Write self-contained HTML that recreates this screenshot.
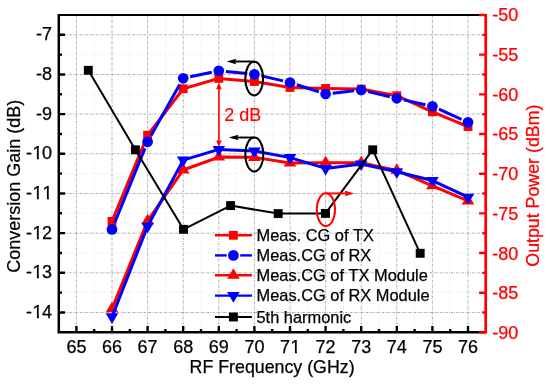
<!DOCTYPE html>
<html><head><meta charset="utf-8"><style>
html,body{margin:0;padding:0;background:#fff;}
svg{display:block;}
text{font-family:"Liberation Sans",Arial,sans-serif;font-kerning:none;fill:#000;stroke:#000;stroke-width:0.25px;}
text.r{fill:#f00;stroke:#f00;}
.t16{font-size:16.4px;}
.t17{font-size:17px;}
.t18{font-size:18px;}
.gM{stroke:#a8a8a8;stroke-width:1;stroke-dasharray:2.2 1.2 0.7 1.2;fill:none;}
.gm{stroke:#f6f6f6;stroke-width:1;fill:none;}
</style></head><body>
<svg width="550" height="384" viewBox="0 0 550 384">
<line x1="94.20" y1="15.0" x2="94.20" y2="332.2" class="gm"/>
<line x1="129.80" y1="15.0" x2="129.80" y2="332.2" class="gm"/>
<line x1="165.40" y1="15.0" x2="165.40" y2="332.2" class="gm"/>
<line x1="201.00" y1="15.0" x2="201.00" y2="332.2" class="gm"/>
<line x1="236.60" y1="15.0" x2="236.60" y2="332.2" class="gm"/>
<line x1="272.20" y1="15.0" x2="272.20" y2="332.2" class="gm"/>
<line x1="307.80" y1="15.0" x2="307.80" y2="332.2" class="gm"/>
<line x1="343.40" y1="15.0" x2="343.40" y2="332.2" class="gm"/>
<line x1="379.00" y1="15.0" x2="379.00" y2="332.2" class="gm"/>
<line x1="414.60" y1="15.0" x2="414.60" y2="332.2" class="gm"/>
<line x1="450.20" y1="15.0" x2="450.20" y2="332.2" class="gm"/>
<line x1="485.80" y1="15.0" x2="485.80" y2="332.2" class="gm"/>
<line x1="58.8" y1="54.63" x2="485.7" y2="54.63" class="gm"/>
<line x1="58.8" y1="94.31" x2="485.7" y2="94.31" class="gm"/>
<line x1="58.8" y1="133.98" x2="485.7" y2="133.98" class="gm"/>
<line x1="58.8" y1="173.64" x2="485.7" y2="173.64" class="gm"/>
<line x1="58.8" y1="213.31" x2="485.7" y2="213.31" class="gm"/>
<line x1="58.8" y1="252.99" x2="485.7" y2="252.99" class="gm"/>
<line x1="58.8" y1="292.66" x2="485.7" y2="292.66" class="gm"/>
<line x1="58.8" y1="332.33" x2="485.7" y2="332.33" class="gm"/>
<line x1="76.40" y1="15.0" x2="76.40" y2="332.2" class="gM"/>
<line x1="112.00" y1="15.0" x2="112.00" y2="332.2" class="gM"/>
<line x1="147.60" y1="15.0" x2="147.60" y2="332.2" class="gM"/>
<line x1="183.20" y1="15.0" x2="183.20" y2="332.2" class="gM"/>
<line x1="218.80" y1="15.0" x2="218.80" y2="332.2" class="gM"/>
<line x1="254.40" y1="15.0" x2="254.40" y2="332.2" class="gM"/>
<line x1="290.00" y1="15.0" x2="290.00" y2="332.2" class="gM"/>
<line x1="325.60" y1="15.0" x2="325.60" y2="332.2" class="gM"/>
<line x1="361.20" y1="15.0" x2="361.20" y2="332.2" class="gM"/>
<line x1="396.80" y1="15.0" x2="396.80" y2="332.2" class="gM"/>
<line x1="432.40" y1="15.0" x2="432.40" y2="332.2" class="gM"/>
<line x1="468.00" y1="15.0" x2="468.00" y2="332.2" class="gM"/>
<line x1="58.8" y1="34.80" x2="485.7" y2="34.80" class="gM"/>
<line x1="58.8" y1="74.47" x2="485.7" y2="74.47" class="gM"/>
<line x1="58.8" y1="114.14" x2="485.7" y2="114.14" class="gM"/>
<line x1="58.8" y1="153.81" x2="485.7" y2="153.81" class="gM"/>
<line x1="58.8" y1="193.48" x2="485.7" y2="193.48" class="gM"/>
<line x1="58.8" y1="233.15" x2="485.7" y2="233.15" class="gM"/>
<line x1="58.8" y1="272.82" x2="485.7" y2="272.82" class="gM"/>
<line x1="58.8" y1="312.49" x2="485.7" y2="312.49" class="gM"/>
<polyline points="112.00,221.40 147.60,135.20 183.20,88.80 218.80,78.40 254.40,81.50 290.00,87.50 325.60,88.40 361.20,89.00 396.80,95.70 432.40,111.80 468.00,126.60" fill="none" stroke="#ff0000" stroke-width="3.0" stroke-linejoin="round"/>
<rect x="107.60" y="217.00" width="8.8" height="8.8" fill="#ff0000"/>
<rect x="143.20" y="130.80" width="8.8" height="8.8" fill="#ff0000"/>
<rect x="178.80" y="84.40" width="8.8" height="8.8" fill="#ff0000"/>
<rect x="214.40" y="74.00" width="8.8" height="8.8" fill="#ff0000"/>
<rect x="250.00" y="77.10" width="8.8" height="8.8" fill="#ff0000"/>
<rect x="285.60" y="83.10" width="8.8" height="8.8" fill="#ff0000"/>
<rect x="321.20" y="84.00" width="8.8" height="8.8" fill="#ff0000"/>
<rect x="356.80" y="84.60" width="8.8" height="8.8" fill="#ff0000"/>
<rect x="392.40" y="91.30" width="8.8" height="8.8" fill="#ff0000"/>
<rect x="428.00" y="107.40" width="8.8" height="8.8" fill="#ff0000"/>
<rect x="463.60" y="122.20" width="8.8" height="8.8" fill="#ff0000"/>
<path d="M114.69,222.78L144.91,148.42M151.10,135.56L179.70,84.54M190.20,76.83L211.80,72.27M225.92,71.50L247.28,73.60M261.37,75.90L283.03,80.90M296.80,84.70L318.80,91.80M332.71,93.20L354.09,90.80M368.16,91.62L389.84,96.68M403.78,99.87L425.42,104.73M438.92,109.23L461.48,119.37" fill="none" stroke="#0000ff" stroke-width="3.0"/>
<circle cx="112.00" cy="229.40" r="5.35" fill="#0000ff"/>
<circle cx="147.60" cy="141.80" r="5.35" fill="#0000ff"/>
<circle cx="183.20" cy="78.30" r="5.35" fill="#0000ff"/>
<circle cx="218.80" cy="70.80" r="5.35" fill="#0000ff"/>
<circle cx="254.40" cy="74.30" r="5.35" fill="#0000ff"/>
<circle cx="290.00" cy="82.50" r="5.35" fill="#0000ff"/>
<circle cx="325.60" cy="94.00" r="5.35" fill="#0000ff"/>
<circle cx="361.20" cy="90.00" r="5.35" fill="#0000ff"/>
<circle cx="396.80" cy="98.30" r="5.35" fill="#0000ff"/>
<circle cx="432.40" cy="106.30" r="5.35" fill="#0000ff"/>
<circle cx="468.00" cy="122.30" r="5.35" fill="#0000ff"/>
<polyline points="112.00,308.77 147.60,220.77 183.20,169.97 218.80,157.07 254.40,157.37 290.00,163.07 325.60,162.77 361.20,162.77 396.80,170.37 432.40,185.77 468.00,200.97" fill="none" stroke="#ff0000" stroke-width="3.0" stroke-linejoin="round"/>
<polygon points="105.70,312.30 118.30,312.30 112.00,301.70" fill="#ff0000"/>
<polygon points="141.30,224.30 153.90,224.30 147.60,213.70" fill="#ff0000"/>
<polygon points="176.90,173.50 189.50,173.50 183.20,162.90" fill="#ff0000"/>
<polygon points="212.50,160.60 225.10,160.60 218.80,150.00" fill="#ff0000"/>
<polygon points="248.10,160.90 260.70,160.90 254.40,150.30" fill="#ff0000"/>
<polygon points="283.70,166.60 296.30,166.60 290.00,156.00" fill="#ff0000"/>
<polygon points="319.30,166.30 331.90,166.30 325.60,155.70" fill="#ff0000"/>
<polygon points="354.90,166.30 367.50,166.30 361.20,155.70" fill="#ff0000"/>
<polygon points="390.50,173.90 403.10,173.90 396.80,163.30" fill="#ff0000"/>
<polygon points="426.10,189.30 438.70,189.30 432.40,178.70" fill="#ff0000"/>
<polygon points="461.70,204.50 474.30,204.50 468.00,193.90" fill="#ff0000"/>
<polyline points="112.00,316.83 147.60,226.23 183.20,160.13 218.80,149.43 254.40,150.93 290.00,157.63 325.60,168.43 361.20,163.93 396.80,171.83 432.40,180.53 468.00,197.23" fill="none" stroke="#0000ff" stroke-width="3.0" stroke-linejoin="round"/>
<polygon points="105.70,313.30 118.30,313.30 112.00,323.90" fill="#0000ff"/>
<polygon points="141.30,222.70 153.90,222.70 147.60,233.30" fill="#0000ff"/>
<polygon points="176.90,156.60 189.50,156.60 183.20,167.20" fill="#0000ff"/>
<polygon points="212.50,145.90 225.10,145.90 218.80,156.50" fill="#0000ff"/>
<polygon points="248.10,147.40 260.70,147.40 254.40,158.00" fill="#0000ff"/>
<polygon points="283.70,154.10 296.30,154.10 290.00,164.70" fill="#0000ff"/>
<polygon points="319.30,164.90 331.90,164.90 325.60,175.50" fill="#0000ff"/>
<polygon points="354.90,160.40 367.50,160.40 361.20,171.00" fill="#0000ff"/>
<polygon points="390.50,168.30 403.10,168.30 396.80,178.90" fill="#0000ff"/>
<polygon points="426.10,177.00 438.70,177.00 432.40,187.60" fill="#0000ff"/>
<polygon points="461.70,193.70 474.30,193.70 468.00,204.30" fill="#0000ff"/>
<polyline points="88.30,70.30 135.40,149.80 183.50,229.30 230.60,205.60 278.20,213.60 325.50,213.40 372.70,149.80 420.20,253.30" fill="none" stroke="#000" stroke-width="2" stroke-linejoin="round"/>
<rect x="83.85" y="65.85" width="8.9" height="8.9" fill="#000"/>
<rect x="130.95" y="145.35" width="8.9" height="8.9" fill="#000"/>
<rect x="179.05" y="224.85" width="8.9" height="8.9" fill="#000"/>
<rect x="226.15" y="201.15" width="8.9" height="8.9" fill="#000"/>
<rect x="273.75" y="209.15" width="8.9" height="8.9" fill="#000"/>
<rect x="321.05" y="208.95" width="8.9" height="8.9" fill="#000"/>
<rect x="368.25" y="145.35" width="8.9" height="8.9" fill="#000"/>
<rect x="415.75" y="248.85" width="8.9" height="8.9" fill="#000"/>
<ellipse cx="254.2" cy="78.6" rx="8.9" ry="16.8" fill="none" stroke="#000" stroke-width="2.0"/>
<ellipse cx="254.3" cy="154.5" rx="9.0" ry="16.9" fill="none" stroke="#000" stroke-width="2.0"/>
<ellipse cx="325.9" cy="209.6" rx="9.1" ry="16.4" fill="none" stroke="#ff0000" stroke-width="2.0"/>
<line x1="254.5" y1="61.5" x2="232.6" y2="61.5" stroke="#000" stroke-width="1.9"/><polygon points="226.6,61.5 236.2,58.7 235.0,61.5 236.2,64.3" fill="#000"/>
<line x1="254.5" y1="137.5" x2="234.8" y2="137.5" stroke="#000" stroke-width="1.9"/><polygon points="228.8,137.5 238.4,134.7 237.20000000000002,137.5 238.4,140.3" fill="#000"/>
<line x1="325.6" y1="193.4" x2="348.3" y2="193.4" stroke="#ff0000" stroke-width="1.9"/><polygon points="354.3,193.4 344.7,190.6 345.90000000000003,193.4 344.7,196.20000000000002" fill="#ff0000"/>
<line x1="218.9" y1="88" x2="218.9" y2="141" stroke="#ff0000" stroke-width="1.6"/>
<polygon points="218.9,82.6 216.1,89.2 221.7,89.2" fill="#ff0000"/>
<polygon points="218.9,147.0 216.1,140.4 221.7,140.4" fill="#ff0000"/>
<text x="224.3" y="120.5" class="t18 r" style="stroke-width:0.1px">2 dB</text>
<line x1="215.0" y1="235.3" x2="251.9" y2="235.3" stroke="#ff0000" stroke-width="2.4"/><rect x="229.00" y="230.90" width="8.8" height="8.8" fill="#ff0000"/>
<line x1="215.0" y1="255.4" x2="226.7" y2="255.4" stroke="#0000ff" stroke-width="2.4"/><line x1="240.2" y1="255.4" x2="251.9" y2="255.4" stroke="#0000ff" stroke-width="2.4"/><circle cx="233.40" cy="255.40" r="5.35" fill="#0000ff"/>
<line x1="215.0" y1="275.2" x2="251.9" y2="275.2" stroke="#ff0000" stroke-width="2.4"/><polygon points="227.10,278.73 239.70,278.73 233.40,268.13" fill="#ff0000"/>
<line x1="215.0" y1="295.6" x2="251.9" y2="295.6" stroke="#0000ff" stroke-width="2.4"/><polygon points="227.10,292.07 239.70,292.07 233.40,302.67" fill="#0000ff"/>
<line x1="215.0" y1="317.0" x2="251.9" y2="317.0" stroke="#000" stroke-width="2"/><rect x="228.95" y="312.55" width="8.9" height="8.9" fill="#000"/>
<text x="256.5" y="240.9" class="t16">Meas. CG of TX</text>
<text x="256.5" y="261.0" class="t16">Meas.CG of RX</text>
<text x="256.5" y="280.8" class="t16">Meas.CG of TX Module</text>
<text x="256.5" y="301.2" class="t16">Meas.CG of RX Module</text>
<text x="256.5" y="322.6" class="t16">5th harmonic</text>
<path d="M76.40,332.2V326.0M112.00,332.2V326.0M147.60,332.2V326.0M183.20,332.2V326.0M218.80,332.2V326.0M254.40,332.2V326.0M290.00,332.2V326.0M325.60,332.2V326.0M361.20,332.2V326.0M396.80,332.2V326.0M432.40,332.2V326.0M468.00,332.2V326.0M94.20,332.2V329.0M129.80,332.2V329.0M165.40,332.2V329.0M201.00,332.2V329.0M236.60,332.2V329.0M272.20,332.2V329.0M307.80,332.2V329.0M343.40,332.2V329.0M379.00,332.2V329.0M414.60,332.2V329.0M450.20,332.2V329.0M58.8,34.80H65.0M58.8,74.47H65.0M58.8,114.14H65.0M58.8,153.81H65.0M58.8,193.48H65.0M58.8,233.15H65.0M58.8,272.82H65.0M58.8,312.49H65.0M58.8,54.63H62.0M58.8,94.31H62.0M58.8,133.98H62.0M58.8,173.64H62.0M58.8,213.31H62.0M58.8,252.99H62.0M58.8,292.66H62.0" stroke="#000" stroke-width="2.4" fill="none"/>
<path d="M58.8,15.0H485.7" stroke="#000" stroke-width="2.2" fill="none"/>
<path d="M58.8,13.9V332.2H485.7" stroke="#000" stroke-width="2.5" fill="none"/>
<path d="M485.7,13.9V333.45" stroke="#ff0000" stroke-width="2.7" fill="none"/>
<path d="M485.7,15.00H479.09999999999997M485.7,54.67H479.09999999999997M485.7,94.34H479.09999999999997M485.7,134.01H479.09999999999997M485.7,173.68H479.09999999999997M485.7,213.35H479.09999999999997M485.7,253.02H479.09999999999997M485.7,292.69H479.09999999999997M485.7,332.36H479.09999999999997M485.7,34.84H482.3M485.7,74.50H482.3M485.7,114.18H482.3M485.7,153.84H482.3M485.7,193.52H482.3M485.7,233.19H482.3M485.7,272.86H482.3M485.7,312.53H482.3" stroke="#ff0000" stroke-width="2.4" fill="none"/>
<text x="66.39 76.40" y="353.2" class="t18">65</text>
<text x="101.99 112.00" y="353.2" class="t18">66</text>
<text x="137.59 147.60" y="353.2" class="t18">67</text>
<text x="173.19 183.20" y="353.2" class="t18">68</text>
<text x="208.79 218.80" y="353.2" class="t18">69</text>
<text x="244.39 254.40" y="353.2" class="t18">70</text>
<text x="279.99 290.60" y="353.2" class="t18">71</text>
<text x="315.59 325.60" y="353.2" class="t18">72</text>
<text x="351.19 361.20" y="353.2" class="t18">73</text>
<text x="386.79 396.80" y="353.2" class="t18">74</text>
<text x="422.39 432.40" y="353.2" class="t18">75</text>
<text x="457.99 468.00" y="353.2" class="t18">76</text>
<text x="36.00 41.99" y="40.30" class="t18">-7</text>
<text x="36.00 41.99" y="79.97" class="t18">-8</text>
<text x="36.00 41.99" y="119.64" class="t18">-9</text>
<text x="25.98 32.58 41.99" y="159.31" class="t18">-10</text>
<text x="25.98 32.58 42.59" y="198.98" class="t18">-11</text>
<text x="25.98 32.58 41.99" y="238.65" class="t18">-12</text>
<text x="25.98 32.58 41.99" y="278.32" class="t18">-13</text>
<text x="25.98 32.58 41.99" y="317.99" class="t18">-14</text>
<g fill="#fff"><rect x="290.77" y="350.76" width="4.18" height="3.69"/><rect x="296.90" y="350.76" width="4.01" height="3.69"/><rect x="32.75" y="156.87" width="4.18" height="3.69"/><rect x="38.88" y="156.87" width="4.01" height="3.69"/><rect x="32.75" y="196.54" width="4.18" height="3.69"/><rect x="38.88" y="196.54" width="4.01" height="3.69"/><rect x="42.76" y="196.54" width="4.18" height="3.69"/><rect x="48.89" y="196.54" width="4.01" height="3.69"/><rect x="32.75" y="236.21" width="4.18" height="3.69"/><rect x="38.88" y="236.21" width="4.01" height="3.69"/><rect x="32.75" y="275.88" width="4.18" height="3.69"/><rect x="38.88" y="275.88" width="4.01" height="3.69"/><rect x="32.75" y="315.55" width="4.18" height="3.69"/><rect x="38.88" y="315.55" width="4.01" height="3.69"/></g>
<text x="492.3" y="21.00" class="t18 r">-50</text>
<text x="492.3" y="60.75" class="t18 r">-55</text>
<text x="492.3" y="100.50" class="t18 r">-60</text>
<text x="492.3" y="140.25" class="t18 r">-65</text>
<text x="492.3" y="180.00" class="t18 r">-70</text>
<text x="492.3" y="219.75" class="t18 r">-75</text>
<text x="492.3" y="259.50" class="t18 r">-80</text>
<text x="492.3" y="299.25" class="t18 r">-85</text>
<text x="492.3" y="338.99" class="t18 r">-90</text>
<text x="189.6" y="372.8" class="t18" style="font-size:17.8px">RF Frequency (GHz)</text>
<text transform="translate(20.2,272.8) rotate(-90)" class="t18">Conversion Gain (dB)</text>
<text transform="translate(539.1,266.7) rotate(-90)" class="t18 r" style="font-size:17.8px">Output Power (dBm)</text>
</svg>
</body></html>
